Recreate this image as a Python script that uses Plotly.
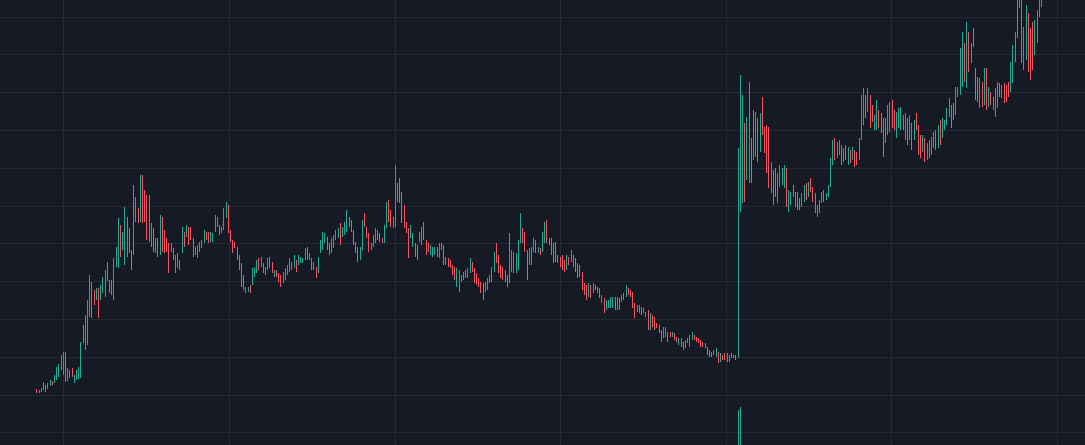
"""
Daily OHLC bars on a dark theme, with the volume spike at the bottom
"""
import plotly.graph_objs as go

# bar values (oldest first)
opens = [
    5.6, 5.5, 5.3, 6.3, 5.3, 5.6, 5.9, 6.4, 6.2, 6.5,
    6.8, 7.5, 7.0, 9.3, 6.4, 7.5, 7.7, 6.2, 6.5, 6.6, 6.7,
    12.0, 9.5, 10.0, 12.8, 16.3, 15.5, 14.5, 15.7, 14.5, 15.2, 14.8,
    18.3, 16.5, 16.5, 14.5, 17.8, 17.7, 22.0, 19.5, 18.0, 22.8,
    21.7, 19.5, 19.0, 24.8, 23.7, 22.3, 27.0, 25.5, 25.0, 25.0,
    22.2, 21.7, 19.2, 20.7, 19.0, 22.8, 21.5, 20.7, 20.2, 19.3,
    19.7, 17.2, 17.7, 18.5, 19.2, 21.3, 20.8, 21.8, 21.8, 20.7,
    19.0, 18.7, 19.3, 19.7, 20.2, 21.3, 21.3, 20.3, 20.3, 21.3,
    21.8, 22.0, 21.8, 21.5, 22.7, 24.0, 21.5, 20.5, 20.3, 19.8,
    19.0, 18.2, 17.0, 15.2, 15.3, 16.0, 16.0, 16.8, 17.2, 18.7,
    17.8, 18.2, 17.8, 17.5, 18.8, 18.3, 16.8, 17.5, 17.2, 17.0, 16.2,
    16.5, 17.0, 17.3, 18.3, 17.7, 18.5, 18.0, 18.2, 18.2, 18.5,
    19.8, 18.5, 18.7, 18.3, 17.8, 17.2, 19.2, 19.5, 20.2, 20.8,
    20.2, 19.2, 19.7, 20.5, 20.7, 22.2, 20.8, 21.0, 21.3, 22.8, 22.5,
    21.5, 20.3, 19.8, 18.5, 19.5, 23.2, 21.8, 21.2, 20.2, 19.8,
    20.2, 21.5, 21.2, 20.7, 20.2, 21.7, 24.5, 23.5, 22.8, 21.8,
    26.2, 26.7, 25.3, 24.0, 22.3, 21.7, 20.7, 19.8, 20.2, 20.0,
    20.3, 21.8, 22.3, 20.5, 20.2, 19.0, 18.8, 19.0, 19.8, 18.7,
    20.2, 20.0, 18.8, 18.7, 18.5, 18.0, 17.8, 15.8, 15.3, 16.3,
    16.5, 16.7, 16.7, 17.2, 18.3, 17.7, 17.2, 16.7, 16.3, 16.2,
    15.3, 15.5, 16.2, 16.3, 17.3, 20.2, 19.0, 18.0, 17.8, 17.5,
    17.0, 16.2, 17.3, 17.2, 17.2, 17.5, 20.2, 21.7, 21.3, 19.5,
    18.0, 18.0, 19.3, 20.5, 19.2, 19.7, 19.3, 20.2, 22.5, 20.7,
    20.7, 20.2, 20.3, 19.0, 18.8, 19.0, 18.5, 17.5, 18.8, 19.5,
    19.0, 18.7, 18.2, 18.0, 17.3, 16.2, 16.0, 14.8, 16.0, 15.2,
    16.0, 15.8, 15.7, 14.2, 14.7, 13.5, 13.7, 13.7, 13.7, 14.8,
    13.5, 14.7, 14.3, 14.5, 14.8, 15.7, 15.5, 15.3,
    14.2, 13.3, 14.0, 13.8, 13.7, 12.8, 13.5, 11.5, 13.0, 12.8,
    12.2, 12.0, 11.5, 10.7, 10.8, 11.3, 11.3, 10.8, 11.2,
    10.8, 10.0, 10.7, 10.3, 9.7, 10.2, 9.8, 10.5, 11.0,
    10.8, 10.7, 10.5, 10.3, 10.2, 9.8, 9.5, 9.3, 9.0,
    8.8, 9.3, 8.3, 9.0, 9.2, 9.2, 8.3, 8.7, 9.0, 9.0,
    8.7, 23.3, 24.2, 32.2, 26.5, 26.2, 30.7, 28.5, 28.8, 32.7,
    29.3, 34.8, 31.8, 32.0, 31.8, 25.2, 27.5, 27.7, 24.2, 25.8,
    26.0, 25.7, 27.7, 23.3, 24.0, 26.0, 25.3, 25.3, 24.7, 23.8,
    24.3, 26.2, 24.8, 26.7, 25.8, 25.2, 22.8, 23.2, 24.2, 25.5,
    24.5, 24.8, 25.8, 28.0, 30.7, 28.7, 29.0, 30.0, 28.3, 30.0,
    28.0, 29.5, 28.5, 29.5, 29.3, 28.5, 30.5, 32.0, 35.0, 33.3,
    35.0, 34.0, 31.5, 31.5, 33.5, 33.2, 32.7, 30.2, 31.0, 31.3,
    34.5, 33.5, 30.7, 31.7, 31.5, 33.0, 30.5, 32.7, 30.5, 32.2,
    30.5, 33.2, 32.0, 31.0, 29.3, 30.7, 28.5, 30.5, 29.0, 31.3,
    29.5, 29.7, 32.5, 30.7, 31.5, 32.0, 32.8, 34.0, 34.2, 33.0,
    34.8, 35.0, 35.8, 40.2, 35.7, 41.3, 38.2, 41.7, 37.7, 36.8,
    33.7, 36.3, 34.0, 37.7, 33.8, 35.3, 34.8, 32.8, 33.7, 36.2,
    34.7, 36.2, 36.0, 36.3, 35.3, 36.2, 38.3, 40.7, 43.7, 45.0,
    37.5, 38.5, 43.2, 41.7, 42.3, 39.0, 40.2, 42.8, 43.8,
]
highs = [
    5.6, 5.5, 5.7, 6.3, 6.0, 6.2, 6.5, 6.4, 7.0, 7.8,
    8.1, 9.0, 9.3, 9.3, 7.7, 7.5, 7.7, 7.0, 7.5, 7.8, 10.3,
    12.0, 13.0, 14.5, 17.0, 16.3, 15.5, 15.7, 15.7, 16.0, 16.8, 17.5,
    18.3, 16.5, 16.5, 18.7, 19.8, 22.7, 22.0, 21.3, 23.8, 22.8,
    21.7, 19.5, 26.0, 24.8, 23.7, 27.0, 27.0, 25.5, 25.0, 25.0,
    22.2, 21.7, 20.7, 20.7, 23.0, 22.8, 21.5, 20.7, 20.2, 20.2,
    19.7, 19.0, 19.2, 18.5, 21.8, 21.3, 22.0, 21.8, 21.8, 20.7,
    19.8, 20.0, 20.3, 20.5, 21.5, 21.3, 21.3, 21.3, 21.2, 23.0,
    22.8, 22.0, 21.8, 23.7, 24.3, 24.0, 21.5, 20.5, 20.3, 19.8,
    19.0, 18.2, 17.0, 15.8, 15.8, 16.0, 17.7, 17.8, 18.5, 18.7,
    18.8, 18.2, 17.8, 18.7, 18.8, 18.3, 17.5, 17.5, 17.2, 17.0, 17.3,
    17.7, 18.0, 18.7, 18.3, 19.0, 18.5, 19.0, 18.8, 18.7, 19.7,
    19.8, 19.2, 18.7, 18.3, 17.8, 18.8, 20.5, 21.3, 21.2, 20.8,
    20.2, 20.7, 21.0, 21.5, 21.7, 22.2, 21.8, 22.3, 23.5, 22.8, 22.5,
    21.5, 20.3, 19.8, 19.8, 22.5, 23.2, 21.8, 21.2, 20.2, 21.0,
    21.7, 21.5, 21.2, 20.7, 22.0, 24.3, 24.5, 23.5, 22.8, 28.0,
    26.2, 26.7, 25.3, 24.0, 22.3, 21.7, 22.0, 21.2, 20.2, 20.0,
    21.3, 21.8, 22.3, 20.5, 20.2, 20.0, 19.8, 19.8, 19.8, 20.2,
    20.2, 20.0, 18.8, 18.7, 18.5, 18.0, 17.8, 17.7, 17.5, 17.0,
    17.3, 17.5, 17.7, 18.7, 18.3, 17.7, 17.2, 16.7, 16.3, 16.2,
    16.3, 16.7, 17.0, 17.8, 19.3, 20.2, 19.0, 18.0, 17.8, 17.5,
    17.0, 21.2, 19.5, 19.3, 19.2, 20.5, 23.2, 21.7, 21.3, 19.5,
    19.7, 19.8, 20.7, 20.5, 19.8, 19.7, 21.3, 22.3, 22.5, 20.7,
    20.7, 20.2, 20.3, 19.0, 18.8, 19.0, 18.5, 19.0, 18.8, 19.5,
    19.0, 18.7, 18.2, 18.0, 17.3, 16.2, 16.0, 16.2, 16.0, 16.2,
    16.0, 15.8, 15.7, 15.0, 14.7, 14.5, 14.5, 14.8, 14.8, 14.8,
    14.8, 14.7, 15.0, 15.2, 16.0, 15.7, 15.5, 15.3,
    14.2, 14.0, 14.0, 13.8, 13.7, 13.3, 13.5, 13.2, 13.0, 12.8,
    12.2, 12.0, 11.5, 11.8, 11.8, 11.3, 11.3, 11.3, 11.2,
    10.8, 10.7, 10.7, 10.3, 10.5, 10.7, 11.0, 11.3, 11.0,
    10.8, 10.7, 10.5, 10.3, 10.2, 9.8, 9.5, 9.3, 9.5,
    9.7, 9.3, 9.2, 9.0, 9.2, 9.2, 9.0, 9.2, 9.0, 9.0,
    29.7, 37.0, 35.0, 32.2, 32.8, 36.3, 30.7, 33.5, 33.3, 32.7,
    33.2, 34.8, 31.8, 32.0, 31.8, 28.3, 27.5, 27.7, 27.2, 28.0,
    27.7, 28.0, 27.7, 25.5, 25.3, 26.0, 25.3, 25.3, 24.7, 25.2,
    26.0, 26.2, 26.3, 26.7, 25.8, 25.2, 24.0, 24.5, 25.3, 25.5,
    25.2, 26.0, 28.7, 30.5, 30.7, 30.3, 30.5, 30.0, 29.7, 30.0,
    29.8, 29.5, 29.8, 29.5, 29.3, 30.7, 35.0, 35.7, 35.0, 35.7,
    35.0, 34.0, 33.0, 34.5, 33.5, 33.2, 32.7, 32.7, 34.0, 34.3,
    34.5, 33.5, 33.3, 33.7, 33.8, 33.0, 33.2, 32.7, 33.0, 32.2,
    32.5, 33.2, 32.0, 31.0, 31.0, 30.7, 30.2, 30.5, 30.8, 31.3,
    31.5, 32.0, 32.5, 32.7, 32.5, 33.7, 34.7, 34.0, 34.2, 35.8,
    35.8, 39.7, 41.3, 40.2, 42.3, 41.3, 40.2, 41.7, 37.7, 36.8,
    36.7, 36.3, 37.7, 37.7, 35.8, 35.3, 34.8, 35.7, 36.3, 36.2,
    36.0, 36.2, 36.0, 36.3, 38.3, 40.0, 41.3, 45.0, 45.0, 45.0,
    41.8, 44.0, 43.2, 41.7, 42.3, 42.5, 43.5, 45.0, 45.5,
]
lows = [
    5.2, 5.2, 5.3, 5.5, 5.3, 5.6, 5.9, 6.0, 6.2, 6.5,
    6.8, 7.5, 7.0, 6.3, 6.4, 6.7, 6.8, 6.2, 6.5, 6.6, 6.7,
    10.2, 9.5, 10.0, 12.8, 12.7, 14.0, 14.5, 12.7, 14.5, 15.2, 14.8,
    16.4, 15.2, 15.0, 14.5, 17.8, 17.7, 18.8, 19.5, 18.0, 18.8,
    19.2, 17.5, 19.0, 22.3, 22.2, 22.3, 22.2, 22.3, 20.5, 20.3,
    19.8, 19.3, 19.2, 18.8, 19.0, 19.3, 19.2, 19.3, 17.2, 19.3,
    18.5, 17.2, 17.7, 17.5, 19.2, 19.8, 20.8, 20.0, 20.5, 18.8,
    19.0, 18.7, 19.3, 19.7, 20.2, 20.5, 20.2, 20.3, 20.3, 21.3,
    21.8, 21.0, 21.2, 21.5, 22.7, 21.2, 20.3, 19.2, 19.7, 18.5,
    17.5, 15.8, 15.5, 15.2, 15.3, 15.2, 16.0, 16.8, 17.2, 17.5,
    17.8, 17.2, 17.0, 17.5, 17.7, 17.2, 16.8, 16.8, 16.3, 15.8, 16.2,
    16.5, 17.0, 17.3, 17.5, 17.7, 17.3, 18.0, 18.2, 18.2, 18.5,
    18.5, 18.5, 17.5, 17.5, 16.7, 17.2, 19.2, 19.5, 20.2, 19.5,
    19.0, 19.2, 19.7, 20.5, 20.7, 20.0, 20.8, 21.0, 21.3, 21.8, 21.3,
    20.0, 19.2, 18.3, 18.5, 19.5, 21.8, 20.7, 19.3, 19.5, 19.8,
    20.2, 20.5, 20.3, 20.2, 20.2, 21.7, 22.3, 21.8, 21.7, 21.8,
    24.3, 24.2, 22.2, 21.7, 21.2, 18.7, 20.7, 19.8, 18.8, 18.5,
    20.3, 20.0, 20.5, 19.0, 19.3, 19.0, 18.8, 19.0, 18.8, 18.7,
    19.5, 18.0, 18.0, 17.8, 17.7, 17.0, 16.5, 15.8, 15.3, 16.3,
    16.5, 16.7, 16.7, 17.2, 17.3, 16.2, 16.0, 15.8, 15.2, 14.5,
    15.3, 15.5, 16.2, 16.3, 17.3, 18.2, 17.2, 16.7, 16.5, 16.3,
    15.8, 16.2, 17.3, 17.2, 17.2, 17.5, 20.2, 20.2, 19.3, 16.5,
    18.0, 18.0, 19.3, 19.2, 19.2, 19.0, 19.3, 20.2, 20.2, 20.0,
    19.0, 18.2, 18.3, 18.2, 17.8, 17.5, 17.3, 17.5, 18.0, 18.3,
    17.8, 17.3, 16.7, 16.8, 15.5, 15.0, 14.5, 14.8, 14.7, 15.2,
    15.5, 15.2, 14.7, 14.2, 13.2, 13.5, 13.7, 13.7, 13.7, 13.5,
    13.5, 13.5, 14.3, 14.5, 14.8, 15.0, 14.8, 13.7,
    12.7, 13.3, 13.2, 13.0, 13.2, 12.8, 11.5, 11.5, 11.8, 11.5,
    11.7, 11.2, 10.3, 10.7, 10.8, 10.3, 10.8, 10.8, 10.5,
    10.3, 10.0, 9.8, 9.5, 9.7, 10.2, 9.8, 10.5, 10.5,
    10.3, 10.2, 9.8, 9.8, 9.7, 9.0, 8.8, 8.8, 9.0,
    8.8, 8.2, 8.3, 8.5, 8.5, 8.3, 8.3, 8.7, 8.7, 8.5,
    8.7, 23.3, 24.2, 24.3, 26.5, 26.2, 26.2, 28.5, 28.8, 28.3,
    29.3, 31.0, 29.2, 27.2, 25.7, 25.2, 24.0, 24.8, 24.2, 25.8,
    26.0, 25.7, 23.8, 23.3, 24.0, 24.8, 23.8, 23.5, 23.5, 23.8,
    24.3, 24.5, 24.8, 25.3, 24.3, 23.2, 22.8, 23.2, 24.2, 24.3,
    24.5, 24.8, 25.8, 28.0, 28.5, 28.7, 29.0, 28.0, 28.3, 28.5,
    28.0, 28.2, 28.5, 27.8, 28.0, 28.5, 30.5, 32.0, 32.7, 33.3,
    31.7, 32.3, 31.5, 31.5, 31.7, 31.2, 28.8, 30.2, 31.0, 31.3,
    31.7, 31.5, 30.7, 31.7, 31.5, 31.5, 30.5, 30.0, 30.5, 29.5,
    30.5, 31.5, 29.0, 28.7, 29.3, 28.3, 28.5, 28.7, 29.0, 29.7,
    29.5, 29.7, 30.0, 30.7, 31.5, 32.0, 32.8, 31.7, 32.5, 33.0,
    34.8, 35.0, 35.8, 36.3, 35.7, 37.3, 38.2, 39.8, 34.5, 34.3,
    33.7, 33.8, 34.0, 33.5, 33.8, 34.0, 33.5, 32.8, 33.7, 34.8,
    34.7, 34.2, 34.3, 34.8, 35.3, 36.2, 38.3, 40.7, 43.7, 38.2,
    37.5, 38.5, 37.3, 36.5, 37.5, 39.0, 40.2, 42.8, 43.8,
]
closes = [
    5.2, 5.2, 5.7, 5.5, 6.0, 6.2, 6.5, 6.0, 7.0, 7.8,
    8.1, 9.0, 9.3, 6.3, 7.7, 6.7, 6.8, 7.0, 7.5, 7.8, 10.3,
    10.2, 13.0, 14.5, 17.0, 12.7, 14.0, 15.7, 12.7, 16.0, 16.8, 17.5,
    16.4, 15.2, 15.0, 18.7, 19.8, 22.7, 18.8, 21.3, 23.8, 18.8,
    19.2, 17.5, 26.0, 22.3, 22.2, 27.0, 22.2, 22.3, 20.5, 20.3,
    19.8, 19.3, 20.7, 18.8, 23.0, 19.3, 19.2, 19.3, 17.2, 20.2,
    18.5, 19.0, 19.2, 17.5, 21.8, 19.8, 22.0, 20.0, 20.5, 18.8,
    19.8, 20.0, 20.3, 20.5, 21.5, 20.5, 20.2, 21.3, 21.2, 23.0,
    22.8, 21.0, 21.2, 23.7, 24.3, 21.2, 20.3, 19.2, 19.7, 18.5,
    17.5, 15.8, 15.5, 15.8, 15.8, 15.2, 17.7, 17.8, 18.5, 17.5,
    18.8, 17.2, 17.0, 18.7, 17.7, 17.2, 17.5, 16.8, 16.3, 15.8, 17.3,
    17.7, 18.0, 18.7, 17.5, 19.0, 17.3, 19.0, 18.8, 18.7, 19.7,
    18.5, 19.2, 17.5, 17.5, 16.7, 18.8, 20.5, 21.3, 21.2, 19.5,
    19.0, 20.7, 21.0, 21.5, 21.7, 20.0, 21.8, 22.3, 23.5, 21.8, 21.3,
    20.0, 19.2, 18.3, 19.8, 22.5, 21.8, 20.7, 19.3, 19.5, 21.0,
    21.7, 20.5, 20.3, 20.2, 22.0, 24.3, 22.3, 21.8, 21.7, 28.0,
    24.3, 24.2, 22.2, 21.7, 21.2, 18.7, 22.0, 21.2, 18.8, 18.5,
    21.3, 20.0, 20.5, 19.0, 19.3, 20.0, 19.8, 19.8, 18.8, 20.2,
    19.5, 18.0, 18.0, 17.8, 17.7, 17.0, 16.5, 17.7, 17.5, 17.0,
    17.3, 17.5, 17.7, 18.7, 17.3, 16.2, 16.0, 15.8, 15.2, 14.5,
    16.3, 16.7, 17.0, 17.8, 19.3, 18.2, 17.2, 16.7, 16.5, 16.3,
    15.8, 21.2, 19.5, 19.3, 19.2, 20.5, 23.2, 20.2, 19.3, 16.5,
    19.7, 19.8, 20.7, 19.2, 19.8, 19.0, 21.3, 22.3, 20.2, 20.0,
    19.0, 18.2, 18.3, 18.2, 17.8, 17.5, 17.3, 19.0, 18.0, 18.3,
    17.8, 17.3, 16.7, 16.8, 15.5, 15.0, 14.5, 16.2, 14.7, 16.2,
    15.5, 15.2, 14.7, 15.0, 13.2, 14.5, 14.5, 14.8, 14.8, 13.5,
    14.8, 13.5, 15.0, 15.2, 16.0, 15.0, 14.8, 13.7,
    12.7, 14.0, 13.2, 13.0, 13.2, 13.3, 11.5, 13.2, 11.8, 11.5,
    11.7, 11.2, 10.3, 11.8, 11.8, 10.3, 10.8, 11.3, 10.5,
    10.3, 10.7, 9.8, 9.5, 10.5, 10.7, 11.0, 11.3, 10.5,
    10.3, 10.2, 9.8, 9.8, 9.7, 9.0, 8.8, 8.8, 9.5,
    9.7, 8.2, 9.2, 8.5, 8.5, 8.3, 9.0, 9.2, 8.7, 8.5,
    29.7, 37.0, 35.0, 24.3, 32.8, 36.3, 26.2, 33.5, 33.3, 28.3,
    33.2, 31.0, 29.2, 27.2, 25.7, 28.3, 24.0, 24.8, 27.2, 28.0,
    27.7, 28.0, 23.8, 25.5, 25.3, 24.8, 23.8, 23.5, 23.5, 25.2,
    26.0, 24.5, 26.3, 25.3, 24.3, 23.2, 24.0, 24.5, 25.3, 24.3,
    25.2, 26.0, 28.7, 30.5, 28.5, 30.3, 30.5, 28.0, 29.7, 28.5,
    29.8, 28.2, 29.8, 27.8, 28.0, 30.7, 35.0, 35.7, 32.7, 35.7,
    31.7, 32.3, 33.0, 34.5, 31.7, 31.2, 28.8, 32.7, 34.0, 34.3,
    31.7, 31.5, 33.3, 33.7, 33.8, 31.5, 33.2, 30.0, 33.0, 29.5,
    32.5, 31.5, 29.0, 28.7, 31.0, 28.3, 30.2, 28.7, 30.8, 29.7,
    31.5, 32.0, 30.0, 32.7, 32.5, 33.7, 34.7, 31.7, 32.5, 35.8,
    35.8, 39.7, 41.3, 36.3, 42.3, 37.3, 40.2, 39.8, 34.5, 34.3,
    36.7, 33.8, 37.7, 33.5, 35.8, 34.0, 33.5, 35.7, 36.3, 34.8,
    36.0, 34.2, 34.3, 34.8, 38.3, 40.0, 41.3, 45.0, 45.0, 38.2,
    41.8, 44.0, 37.3, 36.5, 37.5, 42.5, 43.5, 45.0, 45.5,
]

# only the two volume bars of the gap day reach into the view
volume_bars = [319, 320]
volume_values = [7.9, 8.6]

bars = list(range(len(closes)))

UP = '#22ab94'
DOWN = '#f7525f'
BG = '#161a25'
GRID = '#252a36'

fig = go.Figure()

# price bars (no open/close ticks, just the high-low stroke)
fig.add_trace(go.Ohlc(
    x=bars,
    open=opens,
    high=highs,
    low=lows,
    close=closes,
    increasing=dict(line=dict(color=UP, width=1)),
    decreasing=dict(line=dict(color=DOWN, width=1)),
    tickwidth=0,
    hoverinfo='skip',
    showlegend=False
))

# volume on its own scale, pinned to the bottom, drawn as thin strokes
fig.add_trace(go.Ohlc(
    x=volume_bars,
    open=[0] * len(volume_values),
    high=volume_values,
    low=[0] * len(volume_values),
    close=volume_values,
    increasing=dict(line=dict(color=UP, width=1)),
    decreasing=dict(line=dict(color=DOWN, width=1)),
    tickwidth=0,
    yaxis='y2',
    hoverinfo='skip',
    showlegend=False
))

fig.update_layout(
    width=1085,
    height=445,
    margin=dict(l=0, r=0, t=0, b=0),
    paper_bgcolor=BG,
    plot_bgcolor=BG,
    xaxis=dict(
        range=[-16.83, 476.8],
        tick0=12.28,
        dtick=75.3,
        showgrid=True,
        gridcolor=GRID,
        gridwidth=1,
        showticklabels=False,
        zeroline=False,
        showline=False,
        rangeslider=dict(visible=False)
    ),
    yaxis=dict(
        range=[0, 44.5],
        tick0=1.22,
        dtick=3.78,
        showgrid=True,
        gridcolor=GRID,
        gridwidth=1,
        showticklabels=False,
        zeroline=False,
        showline=False
    ),
    yaxis2=dict(
        range=[0, 100],
        overlaying='y',
        showgrid=False,
        showticklabels=False,
        zeroline=False
    )
)

# flush page, no modebar, crisp 1px bars
page_js = (
    "document.body.style.margin='0';"
    "document.body.style.background='" + BG + "';"
    "document.querySelectorAll('.ohlc path').forEach(function(p){"
    "p.style.shapeRendering='crispEdges';});"
)
fig.write_html('out.html', config={'displayModeBar': False}, post_script=page_js)
